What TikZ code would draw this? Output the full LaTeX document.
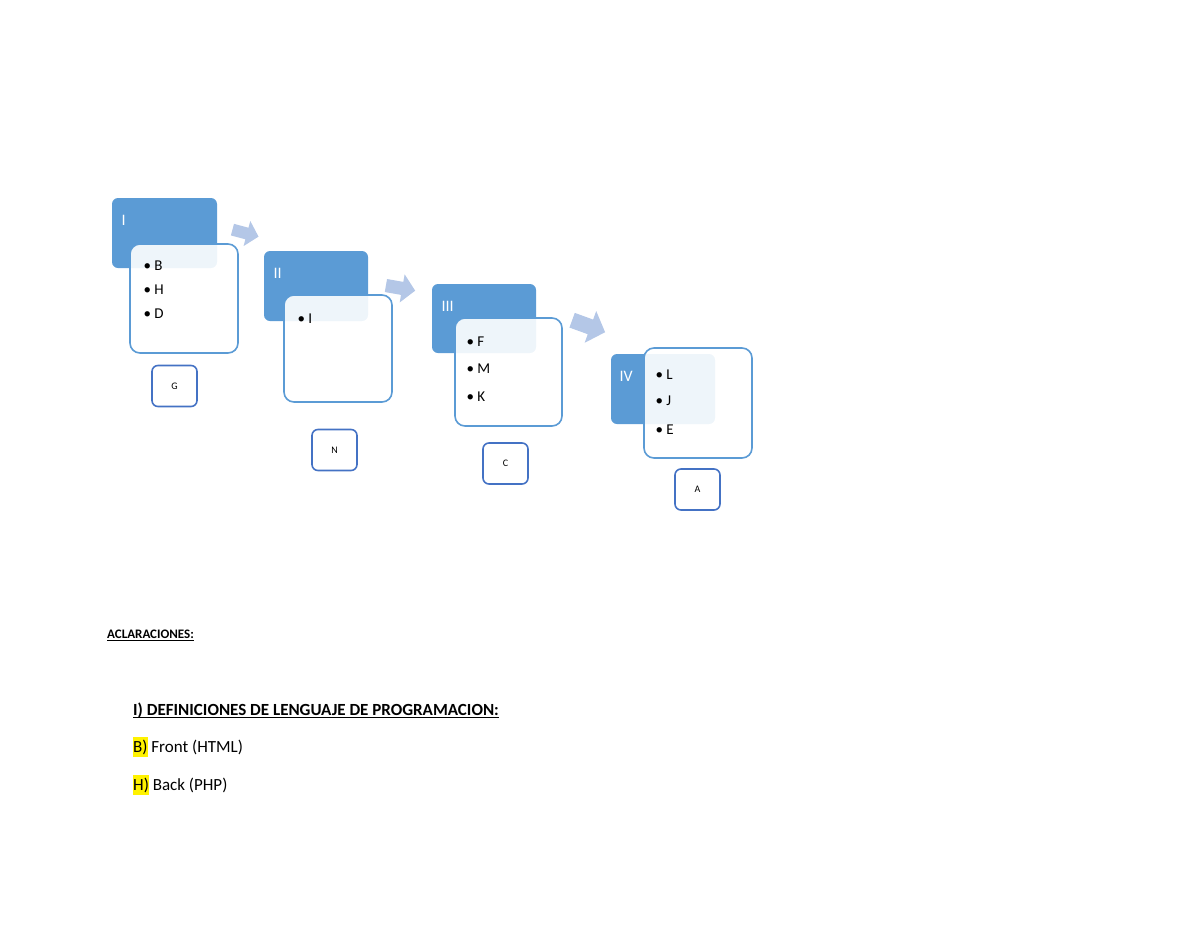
\documentclass[tikz,border=0pt]{standalone}
\usepackage{fontspec}
\setmainfont{Carlito}
\begin{document}
\begin{tikzpicture}[x=1pt,y=-1pt,
  hdr/.style={fill={rgb,255:red,91;green,155;blue,213},rounded corners=6pt},
  body/.style={draw={rgb,255:red,91;green,155;blue,213},line width=1.6pt,fill=white,fill opacity=0.9,rounded corners=10pt},
  lbl/.style={draw={rgb,255:red,68;green,114;blue,196},line width=1.6pt,rounded corners=6pt,minimum width=45pt,minimum height=41pt,font=\fontsize{10}{12}\selectfont},
  arr/.style={fill={rgb,255:red,180;green,199;blue,231}},
  it/.style={anchor=west,font=\fontsize{15}{18}\selectfont},
  ht/.style={anchor=west,text=white,font=\fontsize{16}{18}\selectfont}]
\useasboundingbox (0,0) rectangle (1200,927);
% block I
\fill[hdr] (112,198) rectangle (217,268);
\node[ht] (h1) at (118,220) {I};
\draw[body] (130,244) rectangle (238,353);
\node[it] (i1) at (140,266) {• B};
\node[it] (i2) at (140,290) {• H};
\node[it] (i3) at (140,314) {• D};
\node[lbl] (g) at (174.5,386) {G};
% arrows
\foreach \cx/\cy/\ang/\s in {245/233/-15/1, 400/288/-10/1.1, 588/326/-20/1.3}{
 \fill[arr,shift={(\cx,\cy)},rotate=\ang,scale=\s] (-13,-6) -- (2,-6) -- (2,-13) -- (14,0) -- (2,13) -- (2,6) -- (-13,6) -- cycle;}
% block II
\fill[hdr] (264,251) rectangle (368,321);
\node[ht] (h2) at (270,273) {II};
\draw[body] (284,295) rectangle (392,402);
\node[it] (j1) at (294,319) {• I};
\node[lbl] (n) at (334.5,450) {N};
% block III
\fill[hdr] (432,284) rectangle (536,353);
\node[ht] (h3) at (438,306) {III};
\draw[body] (455,318) rectangle (562,426);
\node[it] (k1) at (463,342) {• F};
\node[it] (k2) at (463,369) {• M};
\node[it] (k3) at (463,397) {• K};
\node[lbl] (c) at (505.5,463.5) {C};
% block IV
\fill[hdr] (611,354) rectangle (715,424);
\draw[body] (644,348) rectangle (752,458);
\node[ht] (h4) at (616,376) {IV};
\node[it] (l1) at (652,375) {• L};
\node[it] (l2) at (652,401) {• J};
\node[it] (l3) at (652,430) {• E};
\node[lbl] (a) at (697.5,489.5) {A};
% text
\node[anchor=base west,font=\bfseries\fontsize{13}{15}\selectfont,inner sep=0pt] (acl) at (107,638) {ACLARACIONES:};
\draw[line width=0.8pt] ([yshift=-2pt]acl.base west) -- ([yshift=-2pt]acl.base east);
\node[anchor=base west,font=\bfseries\fontsize{17}{20}\selectfont,inner sep=0pt] (def) at (133,715) {I) DEFINICIONES DE LENGUAJE DE PROGRAMACION:};
\draw[line width=1pt] ([yshift=-2.5pt]def.base west) -- ([yshift=-2.5pt]def.base east);
\node[anchor=west,font=\fontsize{17}{20}\selectfont,inner sep=0pt] (b) at (133,747) {\colorbox{yellow}{\kern-3pt B)\kern-3pt} Front (HTML)};
\node[anchor=west,font=\fontsize{17}{20}\selectfont,inner sep=0pt] (hh) at (133,785) {\colorbox{yellow}{\kern-3pt H)\kern-3pt} Back (PHP)};
\end{tikzpicture}
\end{document}
